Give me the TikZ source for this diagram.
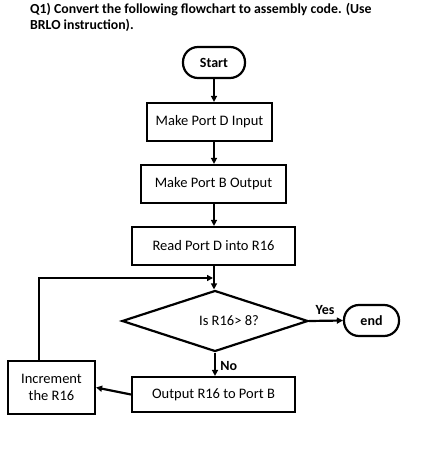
\documentclass[tikz,border=0pt]{standalone}
\usepackage{fontspec}
\setmainfont{Carlito}
\usetikzlibrary{shapes.geometric, arrows.meta}
\begin{document}
\begin{tikzpicture}[x=1pt, y=-1pt]
      \tikzstyle{box}=[draw, line width=2.2pt, inner sep=0pt, font=\fontsize{14.5}{17}\selectfont]
      \tikzstyle{term}=[box, rounded corners=15pt, font=\fontsize{14}{17}\selectfont\bfseries]
      \tikzstyle{arrow}=[line width=2.2pt, -{Triangle[length=6pt, width=6pt]}]
      \tikzstyle{tag}=[font=\fontsize{14}{17}\selectfont\bfseries]
      \useasboundingbox (0, 0) rectangle (427, 462);
      \node[anchor=north west, align=left, inner sep=0pt,
            font=\fontsize{13.8}{16}\selectfont\bfseries] (title) at (30, 3)
        {Q1) Convert the following flowchart to assembly code. (Use\\BRLO instruction).};
      \node[term, minimum width=62pt, minimum height=31pt] (start) at (214, 62.5) {Start};
      \node[box, minimum width=125pt, minimum height=38pt] (mkd) at (209.5, 122) {Make Port D Input};
      \node[box, minimum width=145pt, minimum height=38pt] (mkb) at (213.5, 184) {Make Port B Output};
      \node[box, minimum width=163pt, minimum height=38pt] (read) at (213.5, 246) {Read Port D into R16};
      \node[box, shape=diamond, aspect=3, minimum width=186pt, minimum height=61pt,
            label={[xshift=14pt, font=\fontsize{14.5}{17}\selectfont]center:Is R16> 8?}] (test) at (215, 321) {};
      \node[term, minimum width=55pt, minimum height=31pt] (end) at (371.5, 320.5) {end};
      \node[box, minimum width=163pt, minimum height=35pt] (out) at (213.5, 394.5) {Output R16 to Port B};
      \node[box, align=center, minimum width=87pt, minimum height=53pt] (inc) at (51.5, 387.5) {Increment\\the R16};
      \coordinate (loop) at (39, 278);

      \foreach \src/\dst in {start/mkd, mkd/mkb, mkb/read, read/test} {%
        \draw[arrow] (\src.south -| start) -- (start |- \dst.north);
      }
      \draw[arrow] (test.east) -- node[tag, above, xshift=-1pt, yshift=2pt] {Yes} (end.west);
      \draw[arrow] (test.south) -- node[tag, right, xshift=1pt, yshift=-2pt] {No} (test |- out.north);
      \draw[arrow] (out.west) -- (inc.east);
      \draw[arrow] (inc.north -| loop) -- (loop) -- ([xshift=-1pt]start |- loop);
    \end{tikzpicture}
\end{document}
